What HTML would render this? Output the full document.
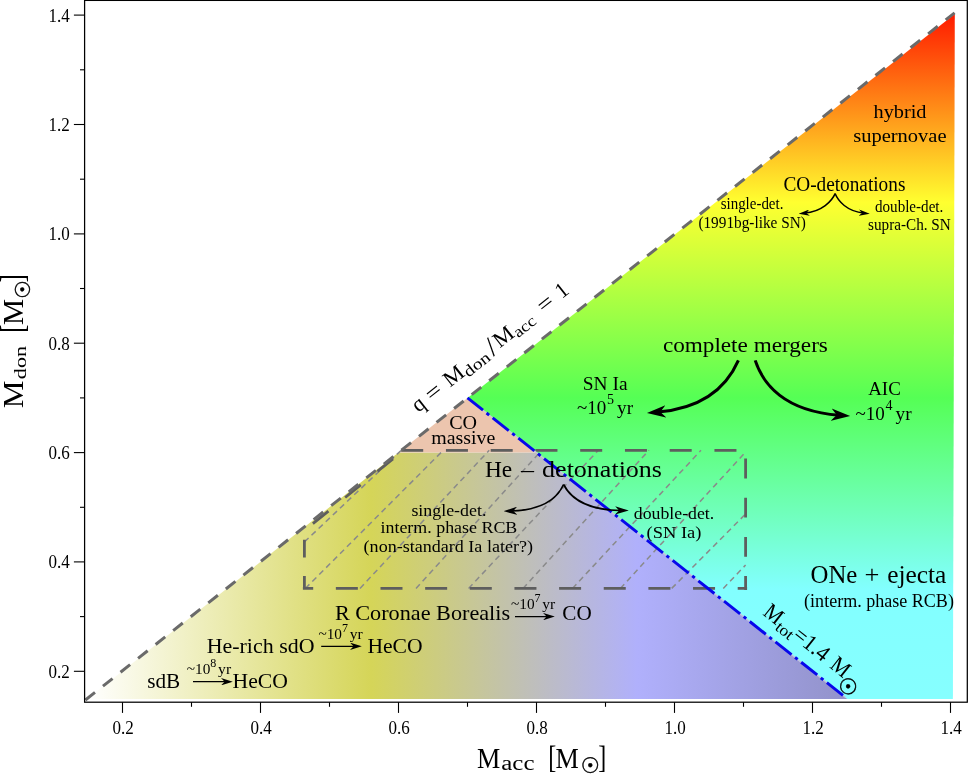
<!DOCTYPE html>
<html lang="en"><head><meta charset="utf-8"><title>Merger outcomes: M_don vs M_acc</title>
<style>
html,body{margin:0;padding:0;background:#fff;}
body{width:968px;height:775px;overflow:hidden;}
svg{display:block;}
text{font-family:"Liberation Serif","DejaVu Serif",serif;fill:#000;}
.tick{font-size:19px;}
.cm{font-size:22px;}
.sm{font-size:16px;}
</style></head><body>
<svg width="968" height="775" viewBox="0 0 968 775">
<defs>
<linearGradient id="gv" gradientUnits="userSpaceOnUse" x1="0" y1="15.1" x2="0" y2="698.6">
<stop offset="0.0" stop-color="#ff1c00"/>
<stop offset="0.274" stop-color="#ffff30"/>
<stop offset="0.56" stop-color="#55ff55"/>
<stop offset="0.84" stop-color="#82ffff"/>
<stop offset="1.0" stop-color="#86ffff"/>
</linearGradient>
<linearGradient id="gh" gradientUnits="userSpaceOnUse" x1="88.0" y1="0" x2="847.0" y2="0">
<stop offset="0.0" stop-color="#ffffff"/>
<stop offset="0.373" stop-color="#d5d558"/>
<stop offset="0.724" stop-color="#b0b0fc"/>
<stop offset="1.0" stop-color="#9292ca"/>
</linearGradient>
<marker id="ah" viewBox="0 0 19 12.4" refX="8" refY="6.2" markerWidth="19" markerHeight="12.4" orient="auto" markerUnits="userSpaceOnUse"><path d="M0,0 L19,6.2 L0,12.4 L5.5,6.2 Z" fill="#000"/></marker>
<marker id="ah2" viewBox="0 0 11 6.4" refX="5" refY="3.2" markerWidth="11" markerHeight="6.4" orient="auto" markerUnits="userSpaceOnUse"><path d="M0,0 L11,3.2 L0,6.4 L3.2,3.2 Z" fill="#000"/></marker>
<marker id="ah3" viewBox="0 0 13.7 8.3" refX="6" refY="4.15" markerWidth="13.7" markerHeight="8.3" orient="auto" markerUnits="userSpaceOnUse"><path d="M0,0 L13.7,4.15 L0,8.3 L4,4.15 Z" fill="#000"/></marker>
<marker id="ah4" viewBox="0 0 11.8 7.4" refX="5" refY="3.7" markerWidth="11.8" markerHeight="7.4" orient="auto" markerUnits="userSpaceOnUse"><path d="M0,0 L11.8,3.7 L0,7.4 L3.6,3.7 Z" fill="#000"/></marker>
</defs>
<rect x="0" y="0" width="968" height="775" fill="#ffffff"/>
<polygon points="467.5,397.9 954.8,13.9 952.9,699 847.3,699" fill="url(#gv)"/>
<polygon points="87.2,699 398.5,452.6 536.5,452.6 847.3,699" fill="url(#gh)"/>
<polygon points="398.5,452.6 467.5,397.9 536.5,452.6" fill="#ecc5ae"/>
<g stroke="#8a8a8a" stroke-width="1.5" stroke-dasharray="5.7 4.1" fill="none">
<line x1="304.4" y1="542.0" x2="401.2" y2="450.3"/>
<line x1="305.4" y1="588.4" x2="443.3" y2="450.3"/>
<line x1="360.0" y1="588.4" x2="489.2" y2="450.3"/>
<line x1="416.0" y1="588.4" x2="541.7" y2="450.3"/>
<line x1="468.6" y1="588.4" x2="598.3" y2="450.3"/>
<line x1="523.0" y1="588.4" x2="649.0" y2="450.3"/>
<line x1="572.5" y1="588.4" x2="701.0" y2="450.3"/>
<line x1="620.4" y1="588.4" x2="745.6" y2="452.0"/>
<line x1="671.7" y1="588.4" x2="745.6" y2="514.0"/>
<line x1="723.3" y1="588.4" x2="745.6" y2="565.0"/>
</g>
<g fill="none" stroke="#5e5e5e" stroke-width="2.8">
<line x1="401.2" y1="450.3" x2="745.6" y2="450.3" stroke-dasharray="22 22.75"/>
<line x1="745.6" y1="450.3" x2="745.6" y2="589.9" stroke-dasharray="0 8.2 19.9 19.3 19.9 19.3 19.9 19.3 14"/>
<line x1="747.1" y1="588.4" x2="302.9" y2="588.4" stroke-dasharray="9.4 22.65 22 22.65 22 22.65 22 22.65 22 22.65 22 22.65 22 22.65 22 22.65 22 22.65 22 22.65 10.4"/>
<line x1="304.4" y1="588.4" x2="304.4" y2="539.7" stroke-dasharray="12.5 18.4 18.4 10"/>
<line x1="305.9" y1="529.3" x2="400.2" y2="453.0" stroke-dasharray="0 9 20 21.5 20 21.5 20 21.5"/>
</g>
<line x1="467.5" y1="397.9" x2="845.3" y2="697.2" stroke="#c4c4dc" stroke-width="1.2"/>
<line x1="467.5" y1="397.9" x2="845.3" y2="697.2" stroke="#0808ea" stroke-width="2.9" stroke-dasharray="20.5 4.5 3.3 4.5" stroke-dashoffset="0.7"/>
<line x1="85.4" y1="700.0" x2="954.6" y2="12.9" stroke="#6a6a6a" stroke-width="3" stroke-dasharray="12.2 10.18"/>
<rect x="84.6" y="0.4" width="882.6999999999999" height="701.8000000000001" fill="none" stroke="#000" stroke-width="1.25"/>
<g stroke="#000" stroke-width="1.1">
<line x1="122.5" y1="702.2" x2="122.5" y2="712.9000000000001"/>
<line x1="84.6" y1="671.3" x2="73.89999999999999" y2="671.3"/>
<line x1="191.5" y1="702.2" x2="191.5" y2="706.8000000000001"/>
<line x1="84.6" y1="616.6" x2="80.0" y2="616.6"/>
<line x1="260.5" y1="702.2" x2="260.5" y2="712.9000000000001"/>
<line x1="84.6" y1="561.9" x2="73.89999999999999" y2="561.9"/>
<line x1="329.5" y1="702.2" x2="329.5" y2="706.8000000000001"/>
<line x1="84.6" y1="507.3" x2="80.0" y2="507.3"/>
<line x1="398.5" y1="702.2" x2="398.5" y2="712.9000000000001"/>
<line x1="84.6" y1="452.6" x2="73.89999999999999" y2="452.6"/>
<line x1="467.5" y1="702.2" x2="467.5" y2="706.8000000000001"/>
<line x1="84.6" y1="397.9" x2="80.0" y2="397.9"/>
<line x1="536.5" y1="702.2" x2="536.5" y2="712.9000000000001"/>
<line x1="84.6" y1="343.2" x2="73.89999999999999" y2="343.2"/>
<line x1="605.5" y1="702.2" x2="605.5" y2="706.8000000000001"/>
<line x1="84.6" y1="288.5" x2="80.0" y2="288.5"/>
<line x1="674.5" y1="702.2" x2="674.5" y2="712.9000000000001"/>
<line x1="84.6" y1="233.9" x2="73.89999999999999" y2="233.9"/>
<line x1="743.5" y1="702.2" x2="743.5" y2="706.8000000000001"/>
<line x1="84.6" y1="179.2" x2="80.0" y2="179.2"/>
<line x1="812.5" y1="702.2" x2="812.5" y2="712.9000000000001"/>
<line x1="84.6" y1="124.5" x2="73.89999999999999" y2="124.5"/>
<line x1="881.5" y1="702.2" x2="881.5" y2="706.8000000000001"/>
<line x1="84.6" y1="69.8" x2="80.0" y2="69.8"/>
<line x1="950.5" y1="702.2" x2="950.5" y2="712.9000000000001"/>
<line x1="84.6" y1="15.1" x2="73.89999999999999" y2="15.1"/>
</g>
<g class="tick">
<text x="112.6" y="733.7" textLength="21.3" lengthAdjust="spacingAndGlyphs">0.2</text>
<text x="48.6" y="677.8" textLength="21.3" lengthAdjust="spacingAndGlyphs">0.2</text>
<text x="250.6" y="733.7" textLength="21.3" lengthAdjust="spacingAndGlyphs">0.4</text>
<text x="48.6" y="568.4" textLength="21.3" lengthAdjust="spacingAndGlyphs">0.4</text>
<text x="388.6" y="733.7" textLength="21.3" lengthAdjust="spacingAndGlyphs">0.6</text>
<text x="48.6" y="459.1" textLength="21.3" lengthAdjust="spacingAndGlyphs">0.6</text>
<text x="526.6" y="733.7" textLength="21.3" lengthAdjust="spacingAndGlyphs">0.8</text>
<text x="48.6" y="349.7" textLength="21.3" lengthAdjust="spacingAndGlyphs">0.8</text>
<text x="664.6" y="733.7" textLength="21.3" lengthAdjust="spacingAndGlyphs">1.0</text>
<text x="48.6" y="240.4" textLength="21.3" lengthAdjust="spacingAndGlyphs">1.0</text>
<text x="802.6" y="733.7" textLength="21.3" lengthAdjust="spacingAndGlyphs">1.2</text>
<text x="48.6" y="131.0" textLength="21.3" lengthAdjust="spacingAndGlyphs">1.2</text>
<text x="940.6" y="733.7" textLength="21.3" lengthAdjust="spacingAndGlyphs">1.4</text>
<text x="48.6" y="21.6" textLength="21.3" lengthAdjust="spacingAndGlyphs">1.4</text>
</g>
<g id="xlabel">
<text x="477" y="767.5" font-size="30" textLength="23.3" lengthAdjust="spacingAndGlyphs">M</text>
<text x="501.3" y="770.3" font-size="20.5" textLength="33.2" lengthAdjust="spacingAndGlyphs">acc</text>
<text x="548.3" y="767.5" font-size="32" textLength="8" lengthAdjust="spacingAndGlyphs">[</text>
<text x="555.5" y="767.5" font-size="30" textLength="23.3" lengthAdjust="spacingAndGlyphs">M</text>
<text x="598.3" y="767.5" font-size="32" textLength="8" lengthAdjust="spacingAndGlyphs">]</text>
<text x="580.52" y="773.38" font-size="21.3" style="font-family:'DejaVu Sans','Liberation Serif',sans-serif" stroke="#000" stroke-width="0.45">☉</text>
</g>
<g id="ylabel" transform="translate(22.6,408.2) rotate(-90)">
<text x="0" y="0" font-size="30" textLength="27.7" lengthAdjust="spacingAndGlyphs">M</text>
<text x="29" y="2.9" font-size="16" textLength="33.3" lengthAdjust="spacingAndGlyphs">don</text>
<text x="75.4" y="0" font-size="33" textLength="8" lengthAdjust="spacingAndGlyphs">[</text>
<text x="83.2" y="0" font-size="30" textLength="26" lengthAdjust="spacingAndGlyphs">M</text>
<text x="126" y="0" font-size="33" textLength="8" lengthAdjust="spacingAndGlyphs">]</text>
<text x="109.24" y="7.48" font-size="21.0" style="font-family:'DejaVu Sans','Liberation Serif',sans-serif" stroke="#000" stroke-width="0.45">☉</text>
</g>
<text x="873.5" y="117.9" font-size="19" textLength="53.0" lengthAdjust="spacingAndGlyphs">hybrid</text>
<text x="853.2" y="142.4" font-size="19" textLength="93.4" lengthAdjust="spacingAndGlyphs">supernovae</text>
<text x="783.4" y="191.2" font-size="20.5" textLength="122.0" lengthAdjust="spacingAndGlyphs">CO-detonations</text>
<text x="720.7" y="208.5" font-size="16" textLength="62.7" lengthAdjust="spacingAndGlyphs">single-det.</text>
<text x="698.4" y="228.0" font-size="16" textLength="107.4" lengthAdjust="spacingAndGlyphs">(1991bg-like SN)</text>
<text x="875.0" y="211.9" font-size="16" textLength="68.3" lengthAdjust="spacingAndGlyphs">double-det.</text>
<text x="868.0" y="229.5" font-size="16" textLength="82.8" lengthAdjust="spacingAndGlyphs">supra-Ch. SN</text>
<path d="M835.1,193.6 C832,201 822,211.5 804.6,213.1" fill="none" stroke="#000" stroke-width="1.5" marker-end="url(#ah2)"/>
<path d="M835.1,193.6 C838,201 847,211.5 863.8,213.1" fill="none" stroke="#000" stroke-width="1.5" marker-end="url(#ah2)"/>
<text x="662.9" y="352.2" font-size="21.8" textLength="165.0" lengthAdjust="spacingAndGlyphs">complete mergers</text>
<text x="582.8" y="389.9" font-size="18.9" textLength="44.7" lengthAdjust="spacingAndGlyphs">SN Ia</text>
<text x="868.2" y="395.4" font-size="18.9" textLength="32.6" lengthAdjust="spacingAndGlyphs">AIC</text>
<text x="577.0" y="413.6" font-size="18.5" textLength="29.3" lengthAdjust="spacingAndGlyphs">~10</text>
<text x="607.0" y="403.9" font-size="14">5</text>
<text x="617.1" y="413.6" font-size="18.5" textLength="16.1" lengthAdjust="spacingAndGlyphs">yr</text>
<text x="855.5" y="419.6" font-size="18.5" textLength="29.3" lengthAdjust="spacingAndGlyphs">~10</text>
<text x="885.5" y="409.9" font-size="14">4</text>
<text x="895.6" y="419.6" font-size="18.5" textLength="16.1" lengthAdjust="spacingAndGlyphs">yr</text>
<path d="M738.4,360.4 C728,384 706,408 657.9,412.1" fill="none" stroke="#000" stroke-width="3" marker-end="url(#ah)"/>
<path d="M755.2,360.4 C763,384 784,411 839.2,415.2" fill="none" stroke="#000" stroke-width="3" marker-end="url(#ah)"/>
<text x="449.2" y="428.6" font-size="18.5" textLength="27.9" lengthAdjust="spacingAndGlyphs">CO</text>
<text x="431.2" y="444.3" font-size="18.5" textLength="64.1" lengthAdjust="spacingAndGlyphs">massive</text>
<text x="484.9" y="477.3" font-size="22.5" textLength="27.3" lengthAdjust="spacingAndGlyphs">He</text>
<text x="520.9" y="477.3" font-size="22.5" textLength="13.0" lengthAdjust="spacingAndGlyphs">–</text>
<text x="542.1" y="477.3" font-size="22.5" textLength="119.9" lengthAdjust="spacingAndGlyphs">detonations</text>
<text x="411.4" y="515.6" font-size="17.6" textLength="75.0" lengthAdjust="spacingAndGlyphs">single-det.</text>
<text x="380.5" y="533.4" font-size="17.6" textLength="136.8" lengthAdjust="spacingAndGlyphs">interm. phase RCB</text>
<text x="363.6" y="551.6" font-size="17.6" textLength="169.4" lengthAdjust="spacingAndGlyphs">(non-standard Ia later?)</text>
<text x="633.8" y="519.0" font-size="17.6" textLength="80.4" lengthAdjust="spacingAndGlyphs">double-det.</text>
<text x="646.5" y="537.7" font-size="17.6" textLength="55.0" lengthAdjust="spacingAndGlyphs">(SN Ia)</text>
<path d="M563.6,484.5 C557,499 543,510 511.3,511" fill="none" stroke="#000" stroke-width="1.7" marker-end="url(#ah3)"/>
<path d="M563.6,484.5 C571,499 588,510 621.1,510.5" fill="none" stroke="#000" stroke-width="1.7" marker-end="url(#ah3)"/>
<text x="810.5" y="582.7" font-size="24.5" textLength="46.8" lengthAdjust="spacingAndGlyphs">ONe</text>
<text x="864.4" y="582.7" font-size="24.5" textLength="14.9" lengthAdjust="spacingAndGlyphs">+</text>
<text x="887.2" y="582.7" font-size="24.5" textLength="59.2" lengthAdjust="spacingAndGlyphs">ejecta</text>
<text x="804.1" y="606.8" font-size="18" textLength="149.8" lengthAdjust="spacingAndGlyphs">(interm. phase RCB)</text>
<text x="147.2" y="688.2" font-size="21.5" textLength="33.0" lengthAdjust="spacingAndGlyphs">sdB</text>
<text x="232.6" y="688.2" font-size="21.5" textLength="55.4" lengthAdjust="spacingAndGlyphs">HeCO</text>
<text x="206.7" y="652.8" font-size="21.5" textLength="107.8" lengthAdjust="spacingAndGlyphs">He-rich sdO</text>
<text x="367.4" y="652.8" font-size="21.5" textLength="55.2" lengthAdjust="spacingAndGlyphs">HeCO</text>
<text x="334.9" y="619.7" font-size="21.5" textLength="175.2" lengthAdjust="spacingAndGlyphs">R Coronae Borealis</text>
<text x="562.3" y="619.7" font-size="21.5" textLength="29.4" lengthAdjust="spacingAndGlyphs">CO</text>
<text x="186.8" y="673.9" font-size="14.7" textLength="23.6" lengthAdjust="spacingAndGlyphs">~10</text>
<text x="210.3" y="666.8" font-size="12">8</text>
<text x="218.1" y="673.9" font-size="14.7" textLength="13" lengthAdjust="spacingAndGlyphs">yr</text>
<text x="318.4" y="638.6" font-size="14.7" textLength="23.6" lengthAdjust="spacingAndGlyphs">~10</text>
<text x="341.9" y="631.5" font-size="12">7</text>
<text x="349.7" y="638.6" font-size="14.7" textLength="13" lengthAdjust="spacingAndGlyphs">yr</text>
<text x="511.0" y="609.2" font-size="14.7" textLength="23.6" lengthAdjust="spacingAndGlyphs">~10</text>
<text x="534.5" y="602.1" font-size="12">7</text>
<text x="542.3" y="609.2" font-size="14.7" textLength="13" lengthAdjust="spacingAndGlyphs">yr</text>
<g stroke="#000" stroke-width="1.3" fill="none">
<line x1="193" y1="681.7" x2="226" y2="681.7" marker-end="url(#ah4)"/>
<line x1="321.2" y1="646.3" x2="355" y2="646.3" marker-end="url(#ah4)"/>
<line x1="515" y1="616.6" x2="548" y2="616.6" marker-end="url(#ah4)"/>
</g>
<g transform="translate(450,387.8) rotate(-38.4)" font-size="22">
<text x="-40.5" y="0">q</text>
<text x="-23.4" y="0" textLength="15.5" lengthAdjust="spacingAndGlyphs">=</text>
<text x="0" y="0" textLength="20.5" lengthAdjust="spacingAndGlyphs">M</text>
<text x="20.8" y="3.5" font-size="16" textLength="29.5" lengthAdjust="spacingAndGlyphs">don</text>
<text x="57.5" y="2.5" font-size="28" text-anchor="middle">/</text>
<text x="63.4" y="0" textLength="20.5" lengthAdjust="spacingAndGlyphs">M</text>
<text x="84.2" y="3.5" font-size="16" textLength="24.5" lengthAdjust="spacingAndGlyphs">acc</text>
<text x="119.2" y="0" textLength="15.5" lengthAdjust="spacingAndGlyphs">=</text>
<text x="148" y="0" text-anchor="middle">1</text>
</g>
<g transform="translate(762.1,614.2) rotate(38.4)" font-size="23">
<text x="0" y="0" textLength="18.3" lengthAdjust="spacingAndGlyphs">M</text>
<text x="18.6" y="4" font-size="16" textLength="18.6" lengthAdjust="spacingAndGlyphs">tot</text>
<text x="37.4" y="0" textLength="40" lengthAdjust="spacingAndGlyphs">=1.4</text>
<text x="85.2" y="0" textLength="18.6" lengthAdjust="spacingAndGlyphs">M</text>
<text x="102.51" y="11.15" font-size="21.8" style="font-family:'DejaVu Sans','Liberation Serif',sans-serif" stroke="#000" stroke-width="0.45">☉</text>
</g>
</svg>
</body></html>
